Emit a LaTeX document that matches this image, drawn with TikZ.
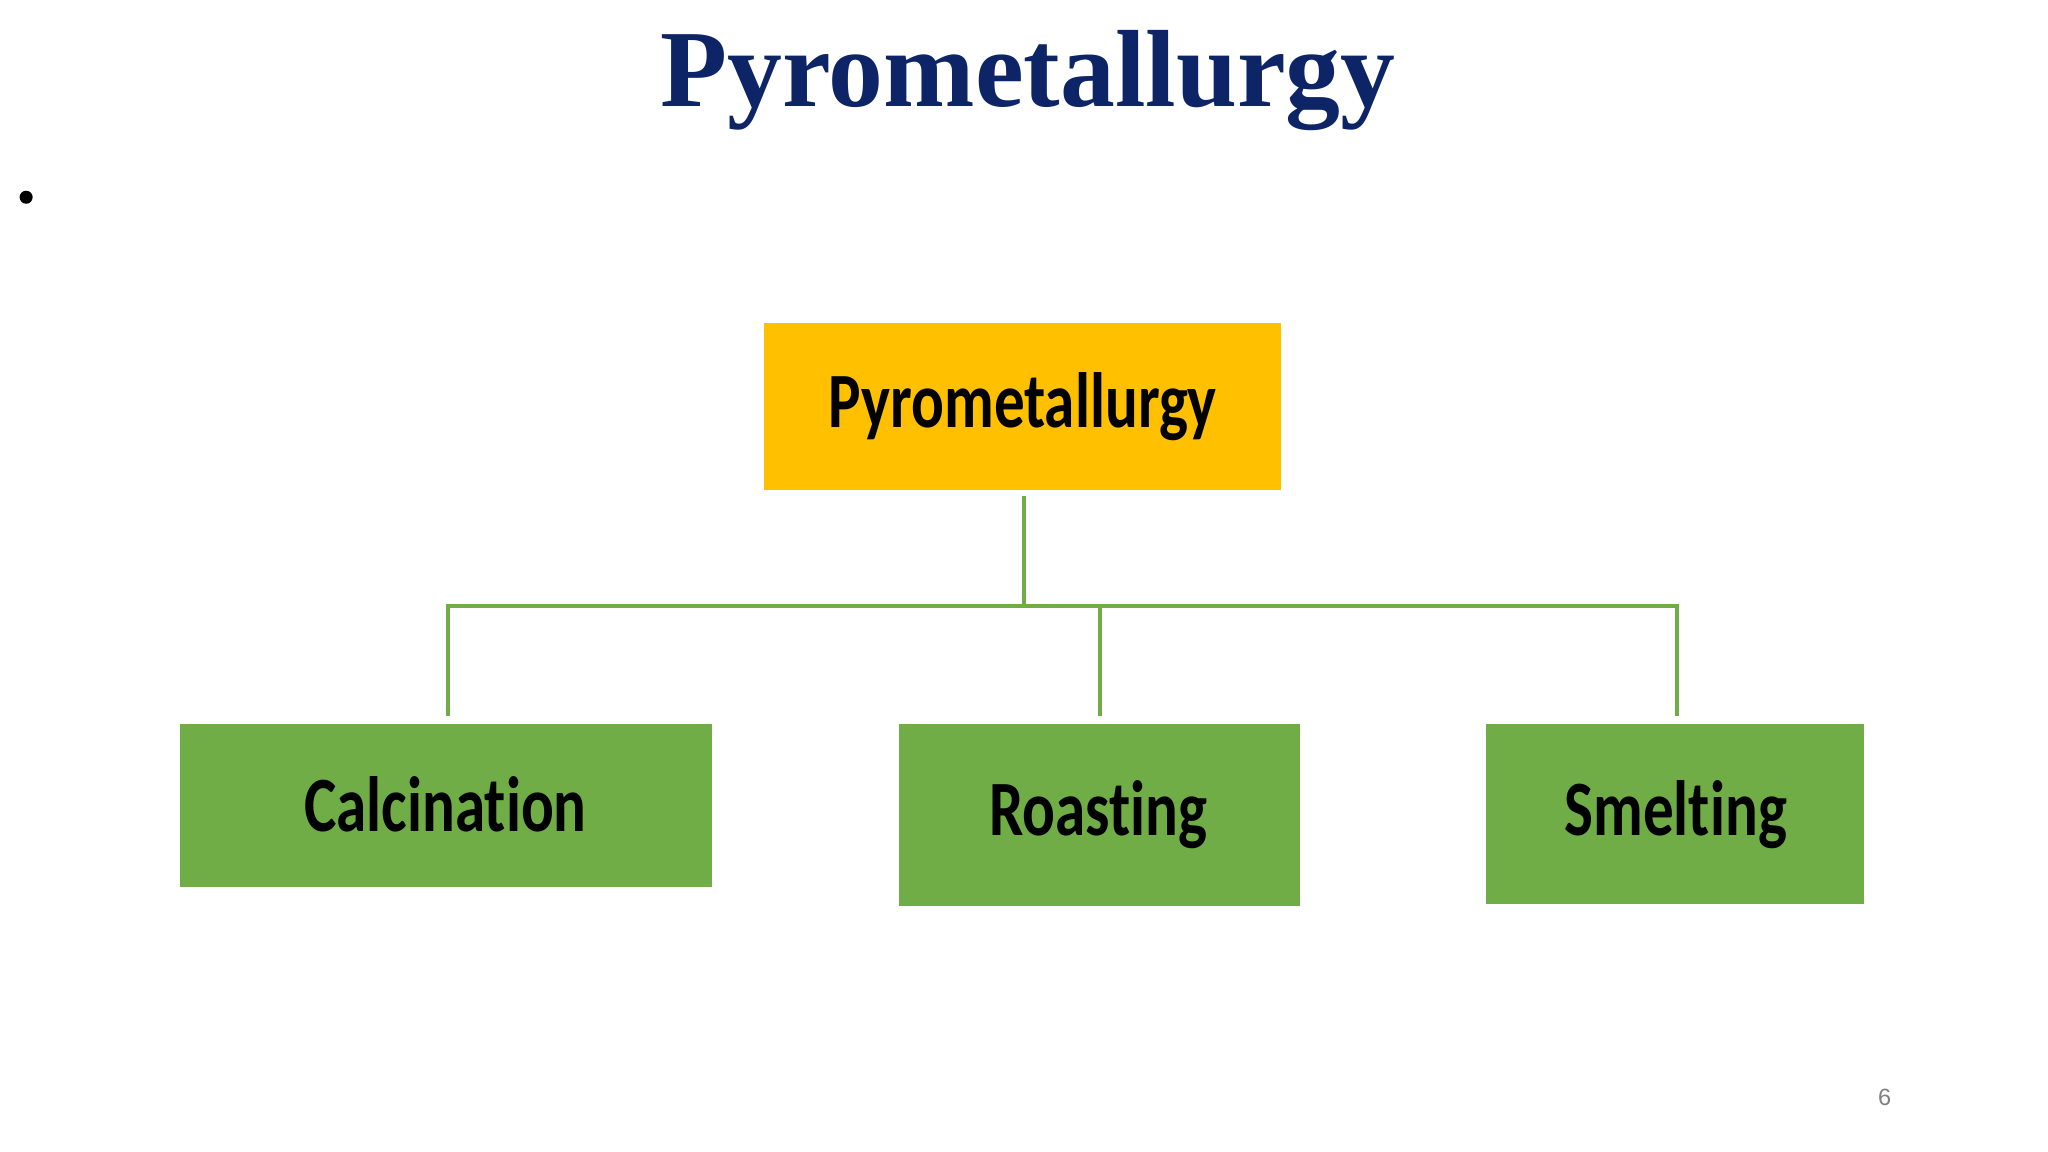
\documentclass[tikz,border=0pt]{standalone}
\usepackage{fontspec}
\setmainfont{Liberation Serif}
\newfontfamily\boxfont[Ligatures={NoCommon}]{Carlito}
\newfontfamily\numfont{Liberation Sans}
\definecolor{navy}{HTML}{0D2466}
\definecolor{gold}{HTML}{FFC000}
\definecolor{grn}{HTML}{70AD47}
\begin{document}
\begin{tikzpicture}[x=0.5pt,y=-0.5pt,
  boxlbl/.style={font=\boxfont\bfseries\fontsize{30}{34}\selectfont, text=black},
  conn/.style={draw=grn, line width=1.6pt}]
\useasboundingbox (0,0) rectangle (1568,882);
\fill[white] (0,0) rectangle (1568,882);
\node[font=\bfseries\fontsize{42}{46}\selectfont, text=navy] (title) at (787,62) {Pyrometallurgy};
\node[circle, fill=black, inner sep=0pt, minimum size=5pt] (bul) at (20,151) {};
\node[font=\numfont\fontsize{9}{10}\selectfont, text=gray] (pg) at (1443,840) {6};
\fill[gold] (585,247) rectangle (981,375);
\node[boxlbl] (top) at (783,311) {\scalebox{0.78}[1]{Pyrometallurgy}};
\fill[grn] (138,554) rectangle (545,679);
\node[boxlbl] (c) at (341,616) {\scalebox{0.78}[1]{Calcination}};
\fill[grn] (688,554) rectangle (995,694);
\node[boxlbl] (r) at (841,624) {\scalebox{0.78}[1]{Roasting}};
\fill[grn] (1138,554) rectangle (1427,692);
\node[boxlbl] (s) at (1283,624) {\scalebox{0.78}[1]{Smelting}};
\coordinate (a0) at (784,380);
\coordinate (a1) at (784,464);
\coordinate (h1) at (343,464);
\coordinate (h2) at (1284,464);
\coordinate (m1) at (842,464);
\coordinate (cL) at (343,548);
\coordinate (cM) at (842,548);
\coordinate (cR) at (1284,548);
\draw[conn] (a0) -- (a1);
\draw[conn] (cL) -- (h1) -- (h2) -- (cR);
\draw[conn] (m1) -- (cM);
\end{tikzpicture}
\end{document}
